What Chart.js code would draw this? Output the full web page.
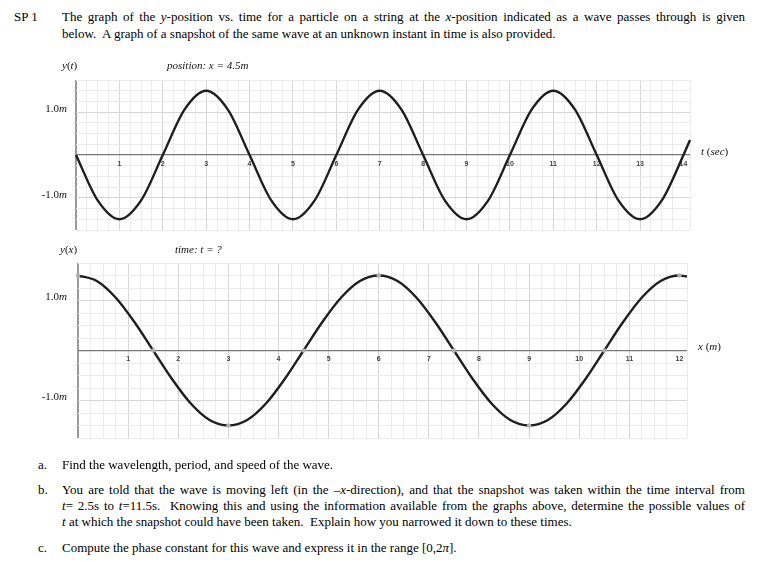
<!DOCTYPE html>
<html>
<head>
<meta charset="utf-8">
<script src="https://cdn.jsdelivr.net/npm/chart.js@4.4.1/dist/chart.umd.min.js"></script>
<style>
  html, body { margin: 0; padding: 0; background: #fff; }
  body { width: 765px; height: 561px; position: relative; overflow: hidden;
         font-family: "Liberation Serif", "Times New Roman", serif; font-size: 13px; color: #000; }
  .abs { position: absolute; }
  .line { position: absolute; left: 62px; width: 683px; white-space: nowrap; line-height: 16px; }
  .full { text-align: justify; text-align-last: justify; white-space: normal; }
  canvas { position: absolute; left: 0; }
  i { font-style: italic; }
</style>
</head>
<body>
  <div class="abs" style="left:14px; top:9px; line-height:16px;">SP 1</div>
  <div class="line full" style="top:9px;">The graph of the <i>y</i>-position vs. time for a particle on a string at the <i>x</i>-position indicated as a wave passes through is given</div>
  <div class="line" style="top:26px;">below.&nbsp; A graph of a snapshot of the same wave at an unknown instant in time is also provided.</div>

  <canvas id="top-chart" width="765" height="190" style="top:55px;"></canvas>
  <canvas id="bottom-chart" width="765" height="210" style="top:240px;"></canvas>

  <div class="abs" style="left:38px; top:457px; line-height:16px;">a.</div>
  <div class="line" style="top:457px;">Find the wavelength, period, and speed of the wave.</div>

  <div class="abs" style="left:38px; top:482px; line-height:16px;">b.</div>
  <div class="line full" style="top:482px;">You are told that the wave is moving left (in the –<i>x</i>-direction), and that the snapshot was taken within the time interval from</div>
  <div class="line full" style="top:498px;"><i>t</i>= 2.5s to <i>t</i>=11.5s.&nbsp; Knowing this and using the information available from the graphs above, determine the possible values of</div>
  <div class="line" style="top:514px;"><i>t</i> at which the snapshot could have been taken.&nbsp; Explain how you narrowed it down to these times.</div>

  <div class="abs" style="left:38px; top:540px; line-height:16px;">c.</div>
  <div class="line" style="top:540px;">Compute the phase constant for this wave and express it in the range [0,2<i>π</i>].</div>

<script>
  // y(t) at x = 4.5 m
  const TOP_T = [0, 0.5, 1, 1.5, 2, 2.5, 3, 3.5, 4, 4.5, 5, 5.5, 6, 6.5, 7, 7.5,
                 8, 8.5, 9, 9.5, 10, 10.5, 11, 11.5, 12, 12.5, 13, 13.5, 14, 14.15];
  const TOP_Y = [0, -1.06, -1.5, -1.06, 0, 1.06, 1.5, 1.06, 0, -1.06, -1.5, -1.06, 0, 1.06, 1.5, 1.06,
                 0, -1.06, -1.5, -1.06, 0, 1.06, 1.5, 1.06, 0, -1.06, -1.5, -1.06, 0, 0.35];
  const TOP_TICKS = [1, 2, 3, 4, 5, 6, 7, 8, 9, 10, 11, 12, 13, 14];

  // y(x) snapshot
  const BOTTOM_X = [0, 0.375, 0.75, 1.125, 1.5, 1.875, 2.25, 2.625, 3, 3.375, 3.75, 4.125,
                    4.5, 4.875, 5.25, 5.625, 6, 6.375, 6.75, 7.125, 7.5, 7.875, 8.25, 8.625,
                    9, 9.375, 9.75, 10.125, 10.5, 10.875, 11.25, 11.625, 12, 12.15];
  const BOTTOM_Y = [1.5, 1.39, 1.06, 0.57, 0, -0.57, -1.06, -1.39, -1.5, -1.39, -1.06, -0.57,
                    0, 0.57, 1.06, 1.39, 1.5, 1.39, 1.06, 0.57, 0, -0.57, -1.06, -1.39,
                    -1.5, -1.39, -1.06, -0.57, 0, 0.57, 1.06, 1.39, 1.5, 1.48];
  const BOTTOM_DOTS = [0, 1.5, 3, 4.5, 6, 7.5, 9, 10.5, 12];
  const BOTTOM_TICKS = [1, 2, 3, 4, 5, 6, 7, 8, 9, 10, 11, 12];

  const Y_LABELS = [1.0, -1.0];

  const SERIF = '"Liberation Serif", "Times New Roman", serif';
  const MAJOR = "#d6d6d6";
  const MINOR = "#ececec";

  // draw a run of [text, italic] pieces as one label
  function drawParts(ctx, parts, x, y, align) {
    const fontOf = (it) => (it ? "italic " : "") + "11px " + SERIF;
    let total = 0;
    parts.forEach(([t, it]) => { ctx.font = fontOf(it); total += ctx.measureText(t).width; });
    let cx = align === "right" ? x - total : x;
    parts.forEach(([t, it]) => {
      ctx.font = fontOf(it);
      ctx.fillText(t, cx, y);
      cx += ctx.measureText(t).width;
    });
  }

  const overlay = {
    id: "overlay",
    beforeDatasetsDraw(chart, args, opts) {
      const { ctx, scales: { x, y } } = chart;
      ctx.save();
      ctx.font = 'bold 7px "Liberation Sans", Arial, sans-serif';
      ctx.fillStyle = "#444";
      ctx.textAlign = "center";
      ctx.textBaseline = "middle";
      const y0 = y.getPixelForValue(0);
      opts.ticks.forEach((v) => ctx.fillText(String(v), x.getPixelForValue(v), y0 + 9));
      ctx.restore();
    },
    afterDraw(chart, args, opts) {
      const { ctx, chartArea: a, scales: { x, y } } = chart;
      ctx.save();
      ctx.fillStyle = "#111";
      ctx.textAlign = "left";
      ctx.textBaseline = "middle";
      Y_LABELS.forEach((v) => {
        drawParts(ctx, [[v.toFixed(1), false], ["m", true]], opts.labelRight, y.getPixelForValue(v) - 3, "right");
      });
      drawParts(ctx, opts.yName, opts.yNameX, a.top - opts.headGap, "left");
      drawParts(ctx, opts.caption, opts.captionX, a.top - opts.headGap, "left");
      drawParts(ctx, opts.xName, a.right + 11, y.getPixelForValue(0) - 3, "left");
      ctx.restore();
    }
  };

  function gridColor(c) {
    const v = c.tick.value;
    if (Math.abs(v) < 1e-9) return c.scale.axis === "x" ? "#9a9a9a" : "#777";
    return Number.isInteger(v) ? MAJOR : MINOR;
  }

  function gridWidth(c) {
    const v = c.tick.value;
    if (Math.abs(v) < 1e-9) return c.scale.axis === "x" ? 2 : 1.2;
    return 1;
  }

  function makeChart(id, xs, ys, xMax, padding, extra) {
    const points = xs.map((v, i) => ({ x: v, y: ys[i] }));
    return new Chart(document.getElementById(id), {
      type: "scatter",
      data: {
        datasets: [{
          data: points,
          showLine: true,
          borderColor: "#1e1e1e",
          borderWidth: 2.4,
          cubicInterpolationMode: "monotone",
          pointRadius: (c) => (extra.dots.includes(xs[c.dataIndex]) ? 2.2 : 0),
          pointBackgroundColor: "#b0b0b0",
          pointBorderWidth: 0,
          clip: 4
        }]
      },
      options: {
        responsive: false,
        animation: false,
        events: [],
        layout: { padding },
        plugins: {
          legend: { display: false },
          tooltip: { enabled: false },
          overlay: extra.overlay
        },
        scales: {
          x: {
            type: "linear",
            min: 0,
            max: xMax,
            border: { display: false },
            ticks: { display: false, stepSize: 0.25 },
            grid: { color: gridColor, lineWidth: gridWidth, drawTicks: false },
            afterFit: (s) => { s.height = 0; }
          },
          y: {
            type: "linear",
            min: -1.75,
            max: 1.75,
            border: { display: false },
            ticks: { display: false, stepSize: 0.25 },
            grid: { color: gridColor, lineWidth: gridWidth, drawTicks: false },
            afterFit: (s) => { s.width = 0; }
          }
        }
      },
      plugins: [overlay]
    });
  }

  makeChart("top-chart", TOP_T, TOP_Y, 14.15,
    { left: 76, right: 75, top: 25, bottom: 15 },
    {
      dots: [],
      overlay: {
        ticks: TOP_TICKS,
        labelRight: 67,
        headGap: 14,
        yName: [["y", true], ["(", false], ["t", true], [")", false]],
        yNameX: 62,
        caption: [["position: x = 4.5m", true]],
        captionX: 167,
        xName: [["t", true], [" (", false], ["sec", true], [")", false]]
      }
    });

  makeChart("bottom-chart", BOTTOM_X, BOTTOM_Y, 12.15,
    { left: 78, right: 78, top: 23, bottom: 12 },
    {
      dots: BOTTOM_DOTS,
      overlay: {
        ticks: BOTTOM_TICKS,
        labelRight: 67,
        headGap: 13,
        yName: [["y", true], ["(", false], ["x", true], [")", false]],
        yNameX: 60,
        caption: [["time: t = ?", true]],
        captionX: 175,
        xName: [["x", true], [" (", false], ["m", true], [")", false]]
      }
    });
</script>
</body>
</html>
